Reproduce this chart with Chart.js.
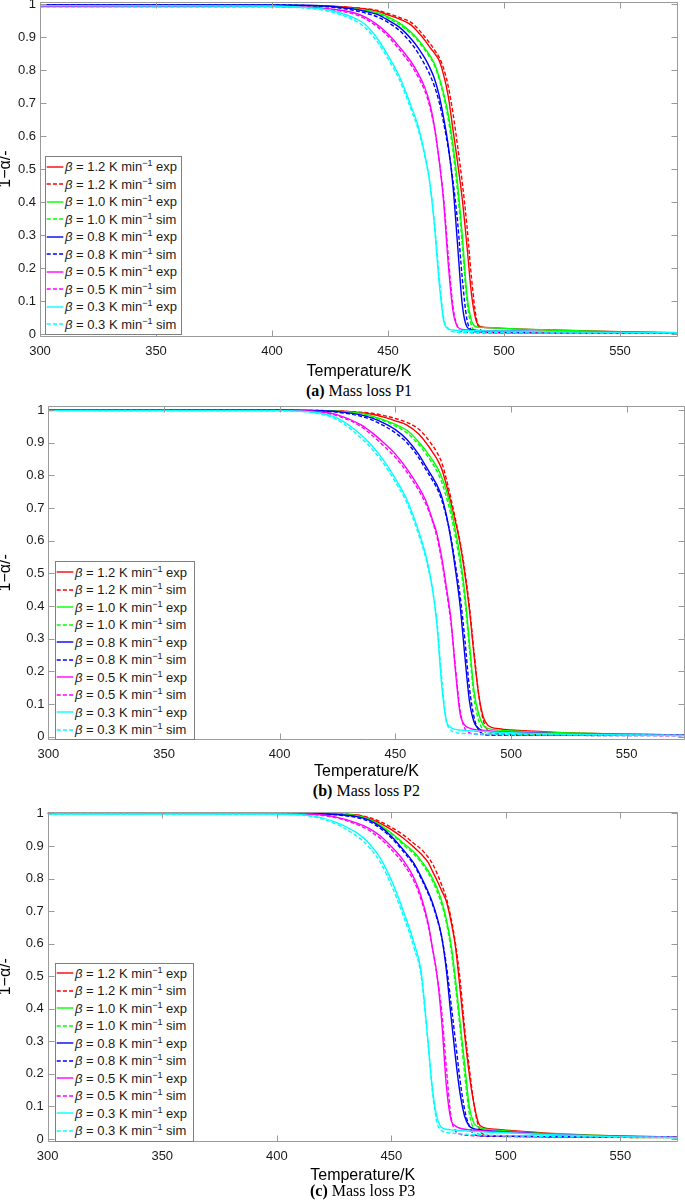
<!DOCTYPE html>
<html>
<head>
<meta charset="utf-8">
<script src="https://cdn.jsdelivr.net/npm/chart.js@4.4.0/dist/chart.umd.min.js"></script>
<style>
  body { margin: 0; background: #fff; }
  #page { position: relative; width: 685px; height: 1200px; overflow: hidden; }
  #page canvas { position: absolute; left: 0; }
  .caption { position: absolute; font-family: "Liberation Serif", "Times New Roman", serif; font-size: 16px; line-height: 16px; white-space: nowrap; transform: translateX(-50%); color: #000; }
  .legend { position: absolute; background: #fff; border: 1px solid #7f7f7f; padding: 1px 0 1px 0; font-family: "Liberation Sans", Arial, sans-serif; font-size: 13px; color: #1a1a1a; }
  .legend .row { height: 17.5px; display: flex; align-items: center; white-space: nowrap; }
  .legend svg { flex: none; }
  .legend sup { font-size: 9px; line-height: 0; vertical-align: baseline; position: relative; top: -5px; }
</style>
</head>
<body>
<div id="page"></div>
<script>
// --- data ---
const temps = [300, 400, 415, 425, 435, 440, 445, 450, 455, 460, 463, 466, 468, 470, 472, 474, 476, 478, 480, 482, 484, 486, 488, 490, 495, 500, 520, 550, 575];
const xTicks = [300, 350, 400, 450, 500, 550];
const yTicks = [0, 0.1, 0.2, 0.3, 0.4, 0.5, 0.6, 0.7, 0.8, 0.9, 1];
const yTickLabels = ['0', '0.1', '0.2', '0.3', '0.4', '0.5', '0.6', '0.7', '0.8', '0.9', '1'];
const rates = ['1.2', '1.0', '0.8', '0.5', '0.3'];

// (a) Mass loss P1
const aRedExp   = [.997,.997,.996,.994,.99,.986,.98,.968,.955,.937,.915,.89,.87,.852,.83,.785,.72,.62,.52,.41,.27,.12,.04,.022,.019,.017,.012,.007,.004];
const aRedSim   = [.997,.997,.996,.994,.99,.987,.982,.972,.96,.945,.925,.9,.882,.862,.84,.805,.75,.67,.57,.46,.33,.17,.05,.012,.006,.005,.004,.003,.003];
const aGreenExp = [.997,.997,.996,.993,.987,.982,.975,.962,.943,.915,.893,.865,.845,.82,.78,.73,.665,.575,.455,.3,.12,.04,.022,.02,.019,.017,.012,.006,.004];
const aGreenSim = [.997,.997,.996,.993,.986,.98,.972,.958,.938,.91,.888,.86,.84,.815,.775,.72,.65,.555,.43,.27,.1,.025,.008,.005,.004,.004,.003,.003,.003];
const aBlueExp  = [.998,.998,.997,.994,.986,.979,.97,.952,.93,.895,.868,.835,.808,.775,.725,.655,.57,.45,.27,.09,.022,.013,.011,.01,.009,.009,.007,.005,.004];
const aBlueSim  = [.998,.998,.996,.992,.982,.974,.963,.945,.92,.882,.852,.815,.787,.752,.705,.64,.562,.465,.34,.17,.045,.012,.006,.005,.004,.004,.003,.003,.003];
const aMagExp   = [.993,.993,.991,.986,.975,.962,.94,.91,.87,.825,.79,.745,.70,.63,.53,.40,.21,.07,.022,.014,.012,.011,.011,.01,.01,.009,.007,.005,.004];
const aMagSim   = [.993,.993,.99,.984,.971,.957,.934,.903,.862,.815,.78,.735,.69,.625,.53,.41,.235,.085,.02,.007,.005,.004,.004,.004,.004,.004,.003,.003,.003];
const aCyanExp  = [.996,.995,.99,.982,.96,.94,.9,.845,.78,.69,.63,.54,.46,.33,.16,.04,.016,.012,.011,.011,.01,.01,.01,.01,.009,.009,.007,.005,.004];
const aCyanSim  = [.996,.994,.988,.978,.953,.93,.89,.835,.77,.68,.62,.535,.46,.34,.18,.05,.015,.007,.005,.004,.004,.004,.004,.004,.004,.004,.003,.003,.003];

// (b) Mass loss P2
const bRedExp   = [1,1,.999,.997,.992,.987,.978,.967,.954,.927,.902,.872,.85,.82,.772,.717,.657,.59,.5,.39,.25,.13,.06,.035,.024,.02,.013,.008,.005];
const bRedSim   = [1,1,.999,.997,.993,.99,.983,.974,.962,.942,.92,.892,.87,.84,.79,.73,.665,.595,.51,.4,.26,.13,.05,.02,.009,.007,.005,.004,.004];
const bGreenExp = [1,1,.999,.996,.99,.981,.97,.956,.938,.903,.877,.847,.825,.795,.755,.7,.63,.55,.44,.29,.14,.07,.035,.025,.02,.017,.012,.007,.005];
const bGreenSim = [1,1,.999,.996,.988,.978,.967,.951,.93,.895,.868,.837,.812,.78,.735,.68,.61,.53,.42,.27,.12,.05,.02,.01,.007,.006,.005,.004,.004];
const bBlueExp  = [1,1,.998,.995,.985,.975,.96,.94,.91,.865,.83,.795,.77,.735,.68,.605,.51,.4,.25,.11,.045,.025,.018,.016,.014,.013,.009,.006,.004];
const bBlueSim  = [1,.999,.997,.993,.981,.969,.952,.93,.9,.855,.82,.785,.76,.725,.675,.61,.525,.43,.3,.15,.06,.02,.008,.005,.004,.004,.004,.003,.003];
const bMagExp   = [1,.999,.996,.985,.955,.93,.9,.865,.82,.765,.725,.665,.62,.55,.46,.36,.2,.07,.035,.026,.022,.02,.019,.018,.015,.013,.009,.006,.004];
const bMagSim   = [1,.999,.995,.982,.95,.922,.89,.855,.81,.755,.715,.66,.61,.54,.45,.35,.21,.08,.025,.012,.008,.007,.006,.006,.005,.005,.004,.004,.003];
const bCyanExp  = [.998,.998,.993,.975,.925,.89,.845,.79,.725,.63,.56,.455,.34,.16,.05,.028,.022,.02,.019,.018,.017,.016,.016,.015,.013,.012,.008,.005,.003];
const bCyanSim  = [.998,.997,.991,.97,.915,.88,.835,.78,.715,.62,.55,.45,.35,.18,.05,.02,.012,.01,.009,.009,.008,.008,.008,.008,.007,.007,.006,.005,.004];

// (c) Mass loss P3
const cRedExp   = [1,1,.999,.998,.995,.985,.97,.95,.925,.895,.875,.85,.822,.793,.762,.73,.67,.59,.46,.32,.2,.11,.05,.036,.03,.027,.017,.009,.006];
const cRedSim   = [1,1,.999,.998,.995,.988,.975,.957,.935,.907,.89,.866,.845,.815,.78,.74,.68,.6,.49,.34,.22,.11,.04,.015,.01,.009,.007,.005,.004];
const cGreenExp = [1,1,.999,.997,.993,.983,.965,.94,.91,.88,.855,.825,.8,.77,.73,.675,.6,.49,.36,.23,.1,.05,.037,.032,.028,.025,.016,.009,.005];
const cGreenSim = [1,1,.999,.997,.992,.981,.962,.937,.905,.874,.849,.818,.792,.76,.72,.665,.585,.47,.34,.2,.08,.03,.015,.01,.008,.007,.006,.005,.004];
const cBlueExp  = [1,1,.999,.997,.99,.98,.96,.93,.89,.845,.805,.76,.725,.68,.62,.52,.38,.25,.14,.07,.04,.032,.029,.027,.024,.022,.014,.008,.005];
const cBlueSim  = [1,1,.998,.996,.987,.976,.955,.925,.885,.84,.8,.755,.72,.675,.62,.535,.42,.3,.18,.09,.04,.015,.01,.009,.008,.008,.007,.006,.005];
const cMagExp   = [1,1,.998,.99,.97,.955,.932,.898,.858,.80,.745,.665,.585,.5,.36,.165,.06,.04,.033,.03,.028,.027,.026,.025,.023,.021,.014,.008,.005];
const cMagSim   = [1,1,.997,.988,.966,.949,.924,.889,.848,.79,.735,.658,.585,.5,.39,.22,.07,.025,.015,.012,.011,.01,.01,.01,.009,.009,.007,.006,.005];
const cCyanExp  = [.998,.998,.993,.975,.94,.91,.865,.795,.705,.6,.515,.3,.15,.065,.035,.03,.028,.027,.026,.025,.024,.023,.023,.022,.02,.019,.013,.007,.004];
const cCyanSim  = [.998,.997,.991,.97,.93,.898,.852,.78,.69,.585,.5,.295,.14,.05,.025,.02,.018,.017,.016,.015,.014,.013,.013,.012,.011,.01,.008,.006,.005];

// --- styling / layout ---
const colors = ['#ff0000', '#00ff00', '#0000ff', '#ff00ff', '#00ffff'];
const SANS = '"Liberation Sans", Arial, sans-serif';
const FRAME = '#9a9a9a';

const panels = [
  { tag: '(a)', name: 'Mass loss P1', top: 0, height: 381, yAxisW: 40, padRight: 7, padTop: 1.5, xAxisH: 44.5,
    yMin: -0.0076, yMax: 1.0085, capTop: 382.6, legend: { left: 45, top: 156, width: 135 },
    series: [aRedExp, aRedSim, aGreenExp, aGreenSim, aBlueExp, aBlueSim, aMagExp, aMagSim, aCyanExp, aCyanSim] },
  { tag: '(b)', name: 'Mass loss P2', top: 400, height: 381, yAxisW: 48.4, padRight: 0.5, padTop: 5.7, xAxisH: 41,
    yMin: -0.0104, yMax: 1.0132, capTop: 783.3, legend: { left: 55, top: 561.3, width: 138 },
    series: [bRedExp, bRedSim, bGreenExp, bGreenSim, bBlueExp, bBlueSim, bMagExp, bMagSim, bCyanExp, bCyanSim] },
  { tag: '(c)', name: 'Mass loss P3', top: 806, height: 379, yAxisW: 47.7, padRight: 7.3, padTop: 5.7, xAxisH: 43.3,
    yMin: -0.0083, yMax: 1.0052, capTop: 1183.3, legend: { left: 55, top: 962.5, width: 137 },
    series: [cRedExp, cRedSim, cGreenExp, cGreenSim, cBlueExp, cBlueSim, cMagExp, cMagSim, cCyanExp, cCyanSim] }
];

// box + inward ticks on all four sides, like the original axes
const framePlugin = {
  id: 'frame',
  afterDatasetsDraw(chart) {
    const { ctx, chartArea: a, scales: { x, y } } = chart;
    const L = Math.round(a.left) + 0.5, R = Math.round(a.right) - 0.5;
    const T = Math.round(a.top) + 0.5, B = Math.round(a.bottom) - 0.5;
    ctx.save();
    ctx.strokeStyle = FRAME;
    ctx.lineWidth = 1;
    ctx.beginPath();
    ctx.rect(L, T, R - L, B - T);
    xTicks.forEach(v => {
      const px = Math.round(x.getPixelForValue(v)) + 0.5;
      ctx.moveTo(px, B); ctx.lineTo(px, B - 6);
      ctx.moveTo(px, T); ctx.lineTo(px, T + 6);
    });
    yTicks.forEach(v => {
      const py = Math.round(y.getPixelForValue(v)) + 0.5;
      ctx.moveTo(L, py); ctx.lineTo(L + 6, py);
      ctx.moveTo(R, py); ctx.lineTo(R - 6, py);
    });
    ctx.stroke();
    ctx.restore();
  }
};

function buildLegend(page, chart, pos) {
  const box = document.createElement('div');
  box.className = 'legend';
  box.style.left = pos.left + 'px';
  box.style.top = pos.top + 'px';
  box.style.width = pos.width + 'px';
  chart.data.datasets.forEach(ds => {
    const row = document.createElement('div');
    row.className = 'row';
    const dash = ds.kind === 'sim' ? 'stroke-dasharray="4 2.2"' : '';
    row.innerHTML =
      `<svg width="19" height="6"><line x1="0.7" y1="3" x2="17.3" y2="3" stroke="${ds.borderColor}" stroke-width="1.4" ${dash}/></svg>` +
      `<span><i>\u03b2</i> = ${ds.rate} K min<sup>\u22121</sup> ${ds.kind}</span>`;
    box.appendChild(row);
  });
  page.appendChild(box);
}

function buildPanel(page, p) {
  const cv = document.createElement('canvas');
  cv.width = 685;
  cv.height = p.height;
  cv.style.top = p.top + 'px';
  page.appendChild(cv);

  const datasets = p.series.map((vals, i) => {
    const kind = i % 2 ? 'sim' : 'exp';
    const rate = rates[i >> 1];
    return {
      label: `\u03b2 = ${rate} K min\u207b\u00b9 ${kind}`,
      rate, kind,
      data: temps.map((t, k) => ({ x: t, y: vals[k] })),
      borderColor: colors[i >> 1],
      borderWidth: 1.4,
      borderDash: kind === 'sim' ? [4, 2.2] : [],
      pointRadius: 0,
      fill: false,
      cubicInterpolationMode: 'monotone',
      order: 10 - i
    };
  });

  const chart = new Chart(cv.getContext('2d'), {
    type: 'line',
    data: { datasets },
    options: {
      responsive: false,
      animation: false,
      devicePixelRatio: 1,
      layout: { padding: { top: p.padTop, right: p.padRight, left: 0, bottom: 0 } },
      plugins: { legend: { display: false }, tooltip: { enabled: false } },
      scales: {
        x: {
          type: 'linear', min: 300, max: 575,
          grid: { display: false, drawTicks: false }, border: { display: false },
          afterBuildTicks: s => { s.ticks = xTicks.map(v => ({ value: v })); },
          afterFit: s => { s.height = p.xAxisH; s.paddingLeft = 0; s.paddingRight = 0; },
          ticks: { autoSkip: false, maxRotation: 0, padding: 7, color: '#1a1a1a',
                   font: { family: SANS, size: 13 }, callback: v => String(v) },
          title: { display: true, text: 'Temperature/K', color: '#000', padding: 0,
                   font: { family: SANS, size: 16 } }
        },
        y: {
          type: 'linear', min: p.yMin, max: p.yMax,
          grid: { display: false, drawTicks: false }, border: { display: false },
          afterBuildTicks: s => { s.ticks = yTicks.map(v => ({ value: v })); },
          afterFit: s => { s.width = p.yAxisW; s.paddingTop = 0; s.paddingBottom = 0; },
          ticks: { autoSkip: false, padding: 4, color: '#1a1a1a',
                   font: { family: SANS, size: 13 }, callback: (v, i) => yTickLabels[i] },
          title: { display: true, text: '1\u2212\u03b1/-', color: '#000', padding: 0,
                   font: { family: SANS, size: 16, lineHeight: 0.65 } }
        }
      }
    },
    plugins: [framePlugin]
  });

  buildLegend(page, chart, p.legend);

  const cap = document.createElement('div');
  cap.className = 'caption';
  cap.style.top = p.capTop + 'px';
  cap.style.left = ((chart.chartArea.left + chart.chartArea.right) / 2) + 'px';
  cap.innerHTML = `<b>${p.tag}</b> ${p.name}`;
  page.appendChild(cap);
}

const page = document.getElementById('page');
panels.forEach(p => buildPanel(page, p));
</script>
</body>
</html>
